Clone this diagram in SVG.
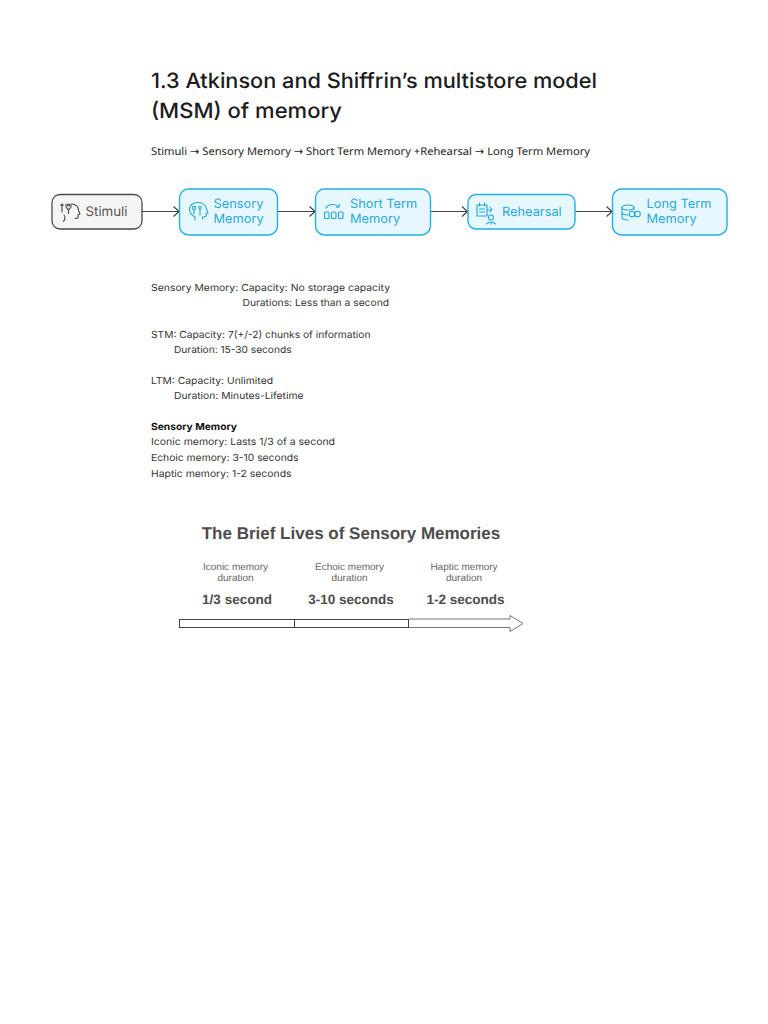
<svg xmlns="http://www.w3.org/2000/svg" width="768" height="1024" viewBox="0 0 768 1024">
<style>
text{font-family:"Inter","Liberation Sans",sans-serif;text-rendering:geometricPrecision}
.title{font-size:21px;fill:#1c1c1c;font-weight:500}
.sub{font-family:"Noto Sans",sans-serif;font-size:10.7px;fill:#222}
.arr{font-family:"DejaVu Sans",sans-serif}
.body{font-size:9.8px;fill:#333}
.n{font-size:12.8px;fill:#2aa9dc}
.blue{fill:#e6f7fe;stroke:#1fb0e6;stroke-width:1.4}
.grey{fill:#f5f5f5;stroke:#4a4a4a;stroke-width:1.3}
.ib{fill:none;stroke:#1fa8de;stroke-width:1.1;stroke-linecap:round;stroke-linejoin:round}
.ig{fill:none;stroke:#444;stroke-width:1.1;stroke-linecap:round;stroke-linejoin:round}
.c{fill:none;stroke:#444;stroke-width:1.1}
.ah{fill:none;stroke:#444;stroke-width:1.2}
.h{font-family:"Liberation Sans",sans-serif;fill:#4d4d4d;font-weight:700;text-anchor:middle}
.l{font-family:"Liberation Sans",sans-serif;fill:#666;font-size:10px;text-anchor:middle}
.b{fill:#fff;stroke:#444;stroke-width:1}
</style>
<defs><marker id="a" markerWidth="8" markerHeight="12" refX="6.500" refY="6" orient="auto" markerUnits="userSpaceOnUse"><path d="M1 1L6.500 6L1 11" class="ah"/></marker></defs>
<text class="title" x="151" y="88" textLength="446" lengthAdjust="spacingAndGlyphs">1.3 Atkinson and Shiffrin’s multistore model</text>
<text class="title" x="151" y="118" textLength="191" lengthAdjust="spacingAndGlyphs">(MSM) of memory</text>
<text class="sub" x="151" y="155" textLength="439" lengthAdjust="spacingAndGlyphs">Stimuli <tspan class="arr">→</tspan> Sensory Memory <tspan class="arr">→</tspan> Short Term Memory +Rehearsal <tspan class="arr">→</tspan> Long Term Memory</text>
<g id="connectors">
<path class="c" d="M142 211.500H179" marker-end="url(#a)"/>
<path class="c" d="M278 211.500H315" marker-end="url(#a)"/>
<path class="c" d="M430 211.500H467.500" marker-end="url(#a)"/>
<path class="c" d="M575 211.500H612" marker-end="url(#a)"/>
</g>
<g id="stimuli"><rect class="grey" x="52" y="194.500" width="90" height="34.500" rx="8"/>
<circle class="ig" cx="62" cy="205" r="1"/><circle class="ig" cx="68.500" cy="205" r="1"/><path class="ig" d="M62 207v5M66 204v2.500c0 2 2.500 2 2.500 4v3M71 204v2.500c0 2-2.500 2-2.500 4M72 204c4 .5 6.500 3 6.500 6.500l1.500 3.500-2 1v3l-3 .5M64 215c1.500 2 1 4.500-.5 6.500"/><text x="85.500" y="216" style="font-size:13.300px;fill:#555">Stimuli</text></g>
<g id="sensory"><rect class="blue" x="179.500" y="189" width="98" height="46" rx="9"/>
<path class="ib" d="M195 220v-3c-3.500-2-5.500-5-5.500-8 0-4 4-6.500 8.500-6.500 5 0 8 3 8.500 6.500l1.500 4-2 .5v3l-3.500.5v2M194 210v4M199 206v2c0 2 2 2 2 0v-2M200 209v6"/><circle class="ib" cx="194" cy="208" r="1.600"/><text class="n" x="213.500" y="208">Sensory</text><text class="n" x="213.500" y="223">Memory</text></g>
<g id="stm"><rect class="blue" x="315.500" y="189" width="115" height="46" rx="9"/>
<path class="ib" d="M326 208c2-4 9-5 13-1M339 207l.5-2.500M339 207l-2.500.2"/><rect class="ib" x="324.500" y="212" width="4.500" height="6.500" rx="1"/><rect class="ib" x="331.500" y="212" width="4.500" height="6.500" rx="1"/><rect class="ib" x="338.500" y="212" width="4.500" height="6.500" rx="1"/><text class="n" x="350" y="208">Short Term</text><text class="n" x="350" y="223">Memory</text></g>
<g id="rehearsal"><rect class="blue" x="468" y="194.500" width="107" height="34.500" rx="8"/>
<path class="ib" d="M477 205h10v11h-10zM479.500 203v3M484.500 203v3M479.500 209h5M479.500 212h5M490 207l2 2.500-2 2.500M488 210h3M486.500 224l3-2h3l3 2M491 224v-2"/><circle class="ib" cx="491" cy="217.500" r="2.500"/><text class="n" x="502" y="215.500">Rehearsal</text></g>
<g id="ltm"><rect class="blue" x="612.500" y="189" width="114.500" height="46" rx="9"/>
<ellipse class="ib" cx="628" cy="207.500" rx="6" ry="2.500"/><path class="ib" d="M622 207.500v10c0 1.500 3 2.500 6 2.500M622 212.500c0 1.500 3 2.500 6 2.500M634 207.500v2"/><circle class="ib" cx="632" cy="214" r="2.800"/><circle class="ib" cx="637.500" cy="214" r="2.800"/><text class="n" x="646.500" y="208">Long Term</text><text class="n" x="646.500" y="223">Memory</text></g>
<g>
<text class="body" x="151" y="291" textLength="239" lengthAdjust="spacingAndGlyphs">Sensory Memory: Capacity: No storage capacity</text>
<text class="body" x="242.500" y="306" textLength="146.500" lengthAdjust="spacingAndGlyphs">Durations: Less than a second</text>
<text class="body" x="151" y="337.500" textLength="219.500" lengthAdjust="spacingAndGlyphs">STM: Capacity: 7(+/-2) chunks of information</text>
<text class="body" x="174" y="352.500" textLength="117.500" lengthAdjust="spacingAndGlyphs">Duration: 15-30 seconds</text>
<text class="body" x="151" y="384" textLength="122" lengthAdjust="spacingAndGlyphs">LTM: Capacity: Unlimited</text>
<text class="body" x="174" y="399" textLength="129.500" lengthAdjust="spacingAndGlyphs">Duration: Minutes-Lifetime</text>
<text class="body" style="font-weight:700;fill:#111" x="151" y="430" textLength="86" lengthAdjust="spacingAndGlyphs">Sensory Memory</text>
<text class="body" x="151" y="445" textLength="184" lengthAdjust="spacingAndGlyphs">Iconic memory: Lasts 1/3 of a second</text>
<text class="body" x="151" y="461" textLength="147.500" lengthAdjust="spacingAndGlyphs">Echoic memory: 3-10 seconds</text>
<text class="body" x="151" y="476.500" textLength="140.500" lengthAdjust="spacingAndGlyphs">Haptic memory: 1-2 seconds</text>
</g>
<text class="h" x="351" y="539" style="font-size:17px">The Brief Lives of Sensory Memories</text>
<text class="l" x="235.500" y="570">Iconic memory</text><text class="l" x="235.500" y="581">duration</text>
<text class="l" x="349.500" y="570">Echoic memory</text><text class="l" x="349.500" y="581">duration</text>
<text class="l" x="464" y="570">Haptic memory</text><text class="l" x="464" y="581">duration</text>
<text class="h" x="237" y="604" style="font-size:13.500px">1/3 second</text>
<text class="h" x="351" y="604" style="font-size:13.500px">3-10 seconds</text>
<text class="h" x="465.500" y="604" style="font-size:13.500px">1-2 seconds</text>
<g id="timeline">
<path d="M409 619H510V615.500L523 623.500L510 631.500V627.500H409" fill="#fff" stroke="#777" stroke-width="1"/>
<rect class="b" x="179.500" y="619.500" width="115" height="8"/>
<rect class="b" x="294.500" y="619.500" width="114" height="8"/>
</g>
</svg>
